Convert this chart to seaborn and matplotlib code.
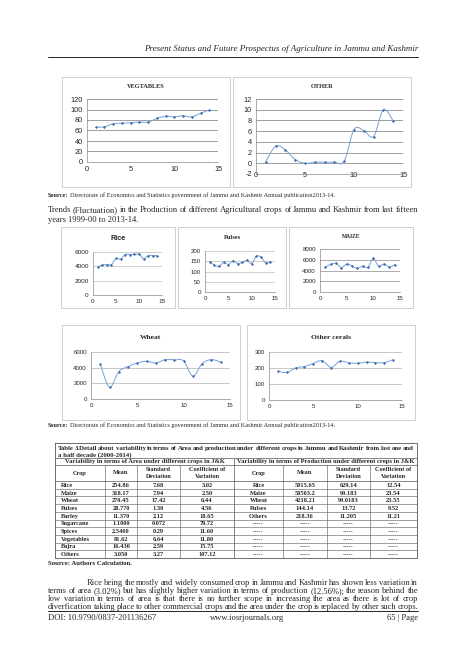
import numpy as np
import matplotlib
matplotlib.use('Agg')
import matplotlib.pyplot as plt
import seaborn as sns
from matplotlib.patches import Rectangle

# values (years 1..14 on x axis)
years = [1, 2, 3, 4, 5, 6, 7, 8, 9, 10, 11, 12, 13, 14]
vegetables = [66, 67, 73, 74, 75, 76, 76, 83, 87, 86, 88, 86, 93, 99]
other = [0.3, 3.2, 2.5, 0.7, 0.0, 0.2, 0.2, 0.2, 0.4, 6.3, 6.1, 5.0, 10.0, 7.9]
rice = [3950, 4200, 4250, 4250, 5100, 5000, 5650, 5650, 5700, 5700, 5050, 5500, 5500, 5500]
pulses = [147, 131, 126, 144, 134, 152, 138, 144, 154, 139, 175, 170, 143, 146]
maize = [4600, 5150, 5350, 4550, 5200, 4850, 4400, 4800, 4600, 6250, 4750, 5200, 4600, 5100]
wheat = [4440, 1520, 3500, 4140, 4600, 4820, 4600, 5030, 4990, 4860, 2920, 4520, 5030, 4690]
other_cereals = [180, 172, 201, 209, 228, 246, 203, 242, 232, 230, 236, 234, 234, 252]

# table 3
area_crops = ['Rice', 'Maize', 'Wheat', 'Pulses', 'Barley', 'Sugarcane', 'Spices',
              'Vegetables', 'Bajra', 'Others']
area_mean = ['254.86', '318.17', '270.45', '28.770', '11.370', '1.1000', '2.5400',
             '81.62', '16.430', '3.050']
area_sd = ['7.68', '7.94', '17.42', '1.30', '2.12', '0.072', '0.29', '6.64', '2.59', '3.27']
area_cv = ['3.02', '2.50', '6.44', '4.56', '18.65', '70.72', '11.60', '11.80', '15.75', '107.12']
prod_crops = ['Rice', 'Maize', 'Wheat', 'Pulses', 'Others']
prod_mean = ['5015.65', '50503.2', '4218.21', '144.14', '218.36']
prod_sd = ['629.14', '99.183', '99.0183', '13.72', '11.205']
prod_cv = ['12.54', '23.54', '23.55', '9.52', '11.21']

sns.set_theme(style='white')
plt.rcParams['font.family'] = ['Liberation Serif', 'DejaVu Serif']

W, H = 474, 670
fig = plt.figure(figsize=(W / 100, H / 100), dpi=100)
page = fig.add_axes([0, 0, 1, 1])
page.set_xlim(0, W)
page.set_ylim(H, 0)
page.axis('off')
rend = fig.canvas.get_renderer()

LINE = '#7fa6d6'
MARK = '#3f6fb0'


def smooth(xs, ys, n=12):
    # bezier smoothing like the spreadsheet "smoothed line" option
    p = np.column_stack([xs, ys]).astype(float)
    out = [p[0]]
    for i in range(len(p) - 1):
        p0 = p[i - 1] if i > 0 else p[i]
        p3 = p[i + 2] if i + 2 < len(p) else p[i + 1]
        c1 = p[i] + (p[i + 1] - p0) / 6
        c2 = p[i + 1] - (p3 - p[i]) / 6
        t = np.linspace(0, 1, n)[1:, None]
        seg = ((1 - t) ** 3) * p[i] + 3 * ((1 - t) ** 2) * t * c1 + 3 * (1 - t) * t * t * c2 + t ** 3 * p[i + 1]
        out.extend(seg)
    out = np.array(out)
    return out[:, 0], out[:, 1]


def chart(box, area, title, vals, yticks, tsize=4.3, lsize=4.3, grid='#9a9a9a',
          title_font='Liberation Serif', xpad=1.5):
    bl, bt, br, bb = box
    page.add_patch(Rectangle((bl, bt), br - bl, bb - bt, fill=False, ec='#c8c8c8', lw=0.6))
    l, t, r, b = area
    ax = fig.add_axes([l / W, 1 - b / H, (r - l) / W, (b - t) / H])
    ax.set_facecolor('none')
    sx, sy = smooth(years, vals)
    sns.lineplot(x=sx, y=sy, ax=ax, color=LINE, lw=0.75, sort=False, estimator=None)
    sns.scatterplot(x=years, y=vals, ax=ax, color=MARK, marker='D', s=2.5, linewidth=0, zorder=3)
    ax.set_xlim(0, 15)
    ax.set_ylim(yticks[0], yticks[-1])
    ax.set_xticks([0, 5, 10, 15])
    ax.set_yticks(yticks)
    ax.set_yticklabels([str(v) for v in yticks], family='Liberation Sans', fontsize=lsize)
    ax.set_xticklabels(['0', '5', '10', '15'], family='Liberation Sans', fontsize=lsize)
    for v in yticks[1:]:
        ax.axhline(v, color=grid, lw=0.5, zorder=0)
    for s in ['top', 'right']:
        ax.spines[s].set_visible(False)
    for s in ['left', 'bottom']:
        ax.spines[s].set_color('#8a8a8a')
        ax.spines[s].set_linewidth(0.5)
    ax.tick_params(axis='both', length=1.5, width=0.5, color='#8a8a8a', pad=1.5)
    ax.tick_params(axis='x', pad=xpad)
    ax.set_xlabel('')
    ax.set_ylabel('')
    page.text((bl + br) / 2, bt + (t - bt) * 0.45, title, ha='center', va='center',
              fontsize=tsize, fontweight='bold', family=title_font)
    return ax


chart((62, 77, 230, 187), (87, 99, 218, 162), 'VEGTABLES', vegetables,
      [0, 20, 40, 60, 80, 100, 120], tsize=4.6, lsize=5.3, grid='#7a7a7a')
chart((233, 77, 411, 187), (256, 99, 403, 174), 'OTHER', other,
      [-2, 0, 2, 4, 6, 8, 10, 12], tsize=4.6, lsize=5.3, grid='#7a7a7a', xpad=-3)
chart((61, 227, 175, 308), (93, 252, 162, 295), 'Rice', rice,
      [0, 2000, 4000, 6000], tsize=5.2, lsize=4.6, grid='#bdbdbd', title_font='Liberation Sans')
chart((178, 227, 286, 308), (205, 251, 275, 292), 'Pulses', pulses,
      [0, 50, 100, 150, 200], tsize=4.6, lsize=4.4, grid='#bdbdbd')
chart((289, 227, 413, 308), (320, 249, 400, 292), 'MAIZE', maize,
      [0, 2000, 4000, 6000, 8000], tsize=4.0, lsize=4.4, grid='#8a8a8a')
chart((62, 325, 240, 420), (91, 352, 230, 399), 'Wheat', wheat,
      [0, 2000, 4000, 6000], tsize=5.4, lsize=4.4, grid='#b0b0b0')
chart((247, 325, 415, 420), (269, 352, 402, 400), 'Other cerals', other_cereals,
      [0, 100, 200, 300], tsize=5.4, lsize=4.4, grid='#b0b0b0')


def justify(text, x0, x1, y, size, weight='normal'):
    words = text.split()
    ts = [page.text(0, y, w, fontsize=size, fontweight=weight, va='center_baseline') for w in words]
    ws = [tt.get_window_extent(rend).width for tt in ts]
    gap = (x1 - x0 - sum(ws)) / max(len(words) - 1, 1)
    x = x0
    for tt, w in zip(ts, ws):
        tt.set_x(x)
        x += w + gap


def source(y, rest, size=4.5):
    t1 = page.text(48, y, 'Source:', fontsize=size, fontweight='bold', va='center_baseline')
    w = t1.get_window_extent(rend).width
    page.text(48 + w + 1.5, y, rest, fontsize=size, va='center_baseline')


BODY = 6.15

# running header
page.text(418, 48, 'Present Status and Future Prospectus of Agriculture in Jammu and Kashmir',
          ha='right', va='center_baseline', fontsize=6.5, style='italic')
page.plot([48, 418], [57, 57], color='black', lw=0.6)

source(195, 'Directorate of Economics and Statistics government of Jammu and Kashmir Annual publication2013-14.')
justify('Trends (Fluctuation) in the Production of different Agricultural crops of Jammu and Kashmir from last fifteen',
        48, 418, 209, BODY)
page.text(48, 219, 'years 1999-00 to 2013-14.', fontsize=BODY, va='center_baseline')
source(425, 'Directorate of Economics and Statistics government of Jammu and Kashmir Annual publication2013-14.')

# table 3
cols = [55, 105, 137, 180, 234, 283, 327, 370, 417]
top, bot = 443, 558
lc = '#555555'
page.plot([cols[0], cols[-1], cols[-1], cols[0], cols[0]], [top, top, bot, bot, top], color=lc, lw=0.6)
for yy in [458, 465, 481]:
    page.plot([cols[0], cols[-1]], [yy, yy], color=lc, lw=0.5)
rows_y = [481 + 7.7 * i for i in range(11)]
for yy in rows_y[1:-1]:
    page.plot([cols[0], cols[-1]], [yy, yy], color=lc, lw=0.4)
page.plot([cols[4], cols[4]], [458, bot], color=lc, lw=0.5)
for c in cols[1:4] + cols[5:8]:
    page.plot([c, c], [465, bot], color=lc, lw=0.4)

justify('Table 3.Detail about variability in terms of Area and production under different crops in Jammu and Kashmir from last one and',
        58, 414, 448, 4.9, 'bold')
page.text(58, 454, 'a half decade (2000-2014)', fontsize=4.9, fontweight='bold', va='center_baseline')
page.text((cols[0] + cols[4]) / 2, 461.5, 'Variability in terms of Area under different crops in J&K',
          ha='center', va='center_baseline', fontsize=4.7, fontweight='bold')
page.text((cols[4] + cols[8]) / 2, 461.5, 'Variability in terms of Production under different crops in J&K',
          ha='center', va='center_baseline', fontsize=4.7, fontweight='bold')
heads = ['Crop', 'Mean', 'Standard\nDeviation', 'Coefficient of\nVariation']
for k, hd in enumerate(heads + heads):
    page.text((cols[k] + cols[k + 1]) / 2, 473, hd, ha='center', va='center', fontsize=4.5,
              fontweight='bold', linespacing=1.4)

dash = '-----'
for i in range(10):
    yc = (rows_y[i] + rows_y[i + 1]) / 2
    page.text(cols[0] + 6, yc, area_crops[i], ha='left', va='center_baseline', fontsize=4.55,
              fontweight='bold')
    for k, v in enumerate([area_mean[i], area_sd[i], area_cv[i]]):
        page.text((cols[k + 1] + cols[k + 2]) / 2, yc, v, ha='center', va='center_baseline',
                  fontsize=4.55, fontweight='bold')
    if i < len(prod_crops):
        right = [prod_crops[i], prod_mean[i], prod_sd[i], prod_cv[i]]
    else:
        right = [dash] * 4
    for k, v in enumerate(right):
        page.text((cols[k + 4] + cols[k + 5]) / 2, yc, v, ha='center', va='center_baseline',
                  fontsize=4.55, fontweight='bold')

page.text(48, 563, 'Source: Authors Calculation.', fontsize=4.9, fontweight='bold', va='center_baseline')

# body paragraph
justify('Rice being the mostly and widely consumed crop in Jammu and Kashmir has shown less variation in',
        87, 418, 582, BODY)
justify('terms of area (3.02%) but has slightly higher variation in terms of production (12.56%); the reason behind the',
        48, 418, 590, BODY)
justify('low variation in terms of area is that there is no further scope in increasing the area as there is lot of crop',
        48, 418, 598, BODY)
justify('diverfication taking place to other commercial crops and the area under the crop is replaced by other such crops.',
        48, 418, 606, BODY)

# footer
page.plot([48, 418], [611, 611], color='black', lw=0.6)
page.text(48, 617, 'DOI: 10.9790/0837-201136267', fontsize=BODY, va='center_baseline')
page.text(247, 617, 'www.iosrjournals.org', fontsize=BODY, va='center_baseline', ha='center')
page.text(418, 617, '65 | Page', fontsize=BODY, va='center_baseline', ha='right')

fig.savefig('out.png', dpi=100, facecolor='white')
